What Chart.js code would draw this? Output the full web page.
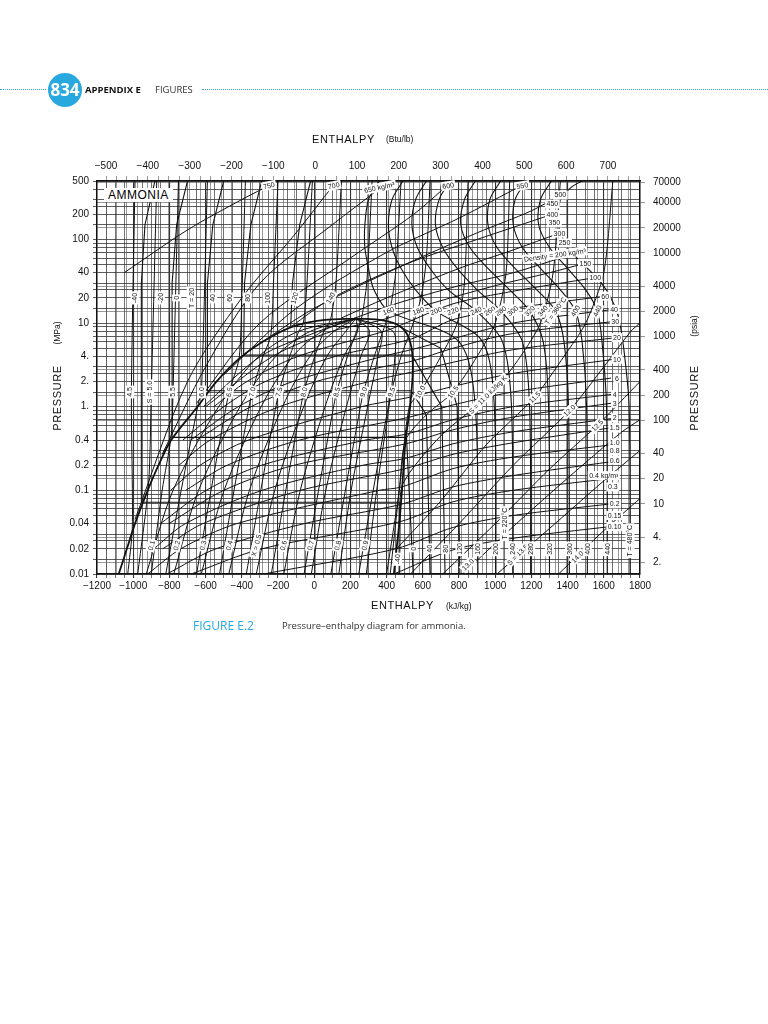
<!DOCTYPE html>
<html>
<head>
<meta charset="utf-8">
<script src="https://cdn.jsdelivr.net/npm/chart.js@4.4.1/dist/chart.umd.min.js"></script>
<style>
  body { margin: 0; background: #fff; font-family: "Liberation Sans", Arial, sans-serif; }
  #wrap { position: relative; width: 768px; height: 1024px; }
  #chart { position: absolute; left: 0; top: 0; }
  .t { position: absolute; white-space: nowrap; color: #111; }
  .dots { position: absolute; top: 89px; height: 0; border-top: 1.5px dotted #3aa6dc; }
  .badge { position: absolute; left: 48px; top: 73px; width: 34px; height: 34px; border-radius: 50%;
    background: #29a8e0; color: #fff; font: bold 17px "Open Sans", sans-serif; line-height: 34px; text-align: center; }
  .rot { transform: translate(-50%, -50%) rotate(-90deg); }
  .box { position: absolute; left: 104px; top: 188px; padding: 0 4px; background: #fff; font: 12px "Liberation Sans", Arial, sans-serif; letter-spacing: 0.5px; }
</style>
</head>
<body>
<div id="wrap">
  <canvas id="chart" width="768" height="1024"></canvas>
  <div class="dots" style="left:0;width:46px"></div>
  <div class="dots" style="left:202px;width:566px"></div>
  <div class="badge">834</div>
  <div class="t" style="left:85px;top:83px;font:bold 9.5px 'Open Sans',sans-serif">APPENDIX E</div>
  <div class="t" style="left:155px;top:83px;font:9.5px 'Open Sans',sans-serif;color:#333">FIGURES</div>
  <div class="t" style="left:312px;top:133px;font:11px 'Liberation Sans',Arial;letter-spacing:0.6px">ENTHALPY</div>
  <div class="t" style="left:386px;top:134px;font:8.5px 'Liberation Sans',Arial">(Btu/lb)</div>
  <div class="t" style="left:371px;top:599px;font:11px 'Liberation Sans',Arial;letter-spacing:0.6px">ENTHALPY</div>
  <div class="t" style="left:446px;top:601px;font:8.5px 'Liberation Sans',Arial">(kJ/kg)</div>
  <div class="t" style="left:193px;top:617px;font:12px 'Open Sans',sans-serif;color:#29a8e0">FIGURE E.2</div>
  <div class="t" style="left:282px;top:619px;font:9.5px 'Open Sans',sans-serif;color:#333">Pressure–enthalpy diagram for ammonia.</div>
  <div class="t rot" style="left:57px;top:398px;font:11px 'Liberation Sans',Arial;letter-spacing:0.6px">PRESSURE</div>
  <div class="t rot" style="left:57px;top:333px;font:8.5px 'Liberation Sans',Arial">(MPa)</div>
  <div class="t rot" style="left:694px;top:398px;font:11px 'Liberation Sans',Arial;letter-spacing:0.6px">PRESSURE</div>
  <div class="t rot" style="left:694px;top:326px;font:8.5px 'Liberation Sans',Arial">(psia)</div>
  <div class="box">AMMONIA</div>
</div>
<script>
// axis ticks
const mpaTicks = [0.01, 0.02, 0.04, 0.1, 0.2, 0.4, 1, 2, 4, 10, 20, 40, 100, 200, 500];
const mpaLabels = ["0.01", "0.02", "0.04", "0.1", "0.2", "0.4", "1.", "2.", "4.", "10", "20", "40", "100", "200", "500"];
const mpaGrid = [0.01, 0.015, 0.02, 0.025, 0.03, 0.04, 0.05, 0.06, 0.07, 0.08, 0.09,
  0.1, 0.15, 0.2, 0.25, 0.3, 0.4, 0.5, 0.6, 0.7, 0.8, 0.9,
  1, 1.5, 2, 2.5, 3, 4, 5, 6, 7, 8, 9,
  10, 15, 20, 25, 30, 40, 50, 60, 70, 80, 90,
  100, 150, 200, 250, 300, 400, 500];
const psiaTicks = [2, 4, 10, 20, 40, 100, 200, 400, 1000, 2000, 4000, 10000, 20000, 40000, 70000];
const psiaLabels = ["2.", "4.", "10", "20", "40", "100", "200", "400", "1000", "2000", "4000", "10000", "20000", "40000", "70000"];
const btuTicks = [-500, -400, -300, -200, -100, 0, 100, 200, 300, 400, 500, 600, 700];

// saturation dome [h kJ/kg, P MPa]
const satLiquid = [[-1080, 0.01], [-1035, 0.02], [-990, 0.04], [-920, 0.1], [-860, 0.2], [-790, 0.4], [-645, 1], [-540, 2], [-400, 4], [-230, 7], [-90, 9.5], [60, 10.9], [230, 11.3]];
const satVapor = [[230, 11.3], [380, 10.8], [480, 9], [530, 6], [545, 3], [530, 1], [505, 0.4], [485, 0.1], [470, 0.04], [455, 0.02], [440, 0.01]];

// quality lines
const quality = {
  "0.1": [[-928, 0.01], [-780, 0.1], [-528, 1], [-306, 4], [-85, 8], [230, 11.3]],
  "0.2": [[-776, 0.01], [-639, 0.1], [-410, 1], [-212, 4], [-20, 8], [230, 11.3]],
  "0.3": [[-624, 0.01], [-498, 0.1], [-293, 1], [-118, 4], [45, 8], [230, 11.3]],
  "0.4": [[-472, 0.01], [-358, 0.1], [-175, 1], [-24, 4], [110, 8], [230, 11.3]],
  "0.5": [[-320, 0.01], [-218, 0.1], [-58, 1], [70, 4], [175, 8], [230, 11.3]],
  "0.6": [[-168, 0.01], [-77, 0.1], [60, 1], [164, 4], [240, 8], [230, 11.3]],
  "0.7": [[-16, 0.01], [64, 0.1], [178, 1], [258, 4], [305, 8], [230, 11.3]],
  "0.8": [[136, 0.01], [204, 0.1], [295, 1], [352, 4], [370, 8], [230, 11.3]],
  "0.9": [[288, 0.01], [345, 0.1], [413, 1], [446, 4], [435, 8], [230, 11.3]],
};

// isentropes, kJ/kg K
const entropy = {
  "4.5": [[-1030, 0.01], [-1005, 0.035], [-1010, 1.5], [-990, 500]],
  "5.0": [[-975, 0.01], [-915, 0.12], [-900, 1.5], [-870, 500]],
  "5.5": [[-900, 0.01], [-840, 0.1], [-790, 0.45], [-780, 1.5], [-750, 500]],
  "6.0": [[-820, 0.01], [-735, 0.1], [-640, 1.1], [-623, 1.5], [-590, 500]],
  "6.5": [[-650, 0.01], [-570, 0.1], [-500, 0.7], [-470, 1.5], [-415, 3.8], [-400, 20], [-380, 500]],
  "7.0": [[-523, 0.01], [-443, 0.1], [-373, 0.7], [-343, 1.5], [-283, 4], [-240, 7], [-225, 30], [-200, 500]],
  "7.5": [[-375, 0.01], [-295, 0.1], [-225, 0.7], [-195, 1.5], [-135, 4], [-85, 8], [-60, 10], [-40, 30], [-10, 500]],
  "8.0": [[-237, 0.01], [-157, 0.1], [-87, 0.7], [-57, 1.5], [3, 4], [53, 8], [90, 11], [120, 30], [150, 500]],
  "8.5": [[-56, 0.01], [24, 0.1], [94, 0.7], [124, 1.5], [184, 4], [234, 8], [260, 11], [290, 30], [320, 500]],
  "9.0": [[92, 0.01], [172, 0.1], [242, 0.7], [272, 1.5], [332, 4], [380, 8], [420, 15], [450, 40], [480, 500]],
  "9.5": [[246, 0.01], [326, 0.1], [396, 0.7], [426, 1.5], [480, 4], [540, 9], [590, 20], [620, 60], [640, 500]],
  "10.0": [[400, 0.01], [470, 0.1], [525, 1], [586, 1.5], [700, 4], [790, 10], [830, 30], [850, 500]],
  "10.5": [[420, 0.01], [470, 0.1], [505, 0.4], [620, 0.8], [767, 1.5], [900, 4], [1000, 10], [1060, 40], [1080, 500]],
  "11.0": [[470, 0.04], [490, 0.12], [700, 0.45], [987, 1.5], [1140, 4], [1250, 10], [1320, 40], [1360, 500]],
  "11.5": [[455, 0.02], [700, 0.075], [950, 0.35], [1218, 1.3], [1380, 4], [1500, 10], [1600, 40], [1650, 500]],
  "12.0": [[532, 0.01], [800, 0.04], [1100, 0.2], [1410, 0.9], [1600, 3], [1750, 8], [1800, 10]],
  "12.5": [[710, 0.01], [1000, 0.04], [1300, 0.18], [1564, 0.6], [1800, 2]],
  "13.0": [[820, 0.01], [1100, 0.037], [1400, 0.14], [1700, 0.5], [1800, 0.7]],
  "13.5": [[1010, 0.01], [1300, 0.035], [1600, 0.13], [1800, 0.3]],
  "14.0": [[1350, 0.01], [1600, 0.033], [1800, 0.08]],
};

// isotherms, °C
const isotherms = {
  "-40": [[472, 0.01], [475, 0.072], [-955, 0.072], [-955, 30], [-935, 150], [-880, 500]],
  "0": [[547, 0.01], [510, 0.43], [-785, 0.43], [-785, 30], [-760, 150], [-700, 500]],
  "40": [[640, 0.01], [620, 0.8], [535, 1.55], [-590, 1.55], [-590, 30], [-560, 150], [-500, 500]],
  "80": [[723, 0.01], [705, 1], [540, 4.14], [-390, 4.14], [-385, 30], [-350, 150], [-290, 500]],
  "120": [[805, 0.01], [790, 1], [700, 5], [470, 9.1], [-130, 9.1], [-120, 30], [-80, 150], [-20, 500]],
  "160": [[905, 0.01], [890, 1], [800, 6], [410, 14], [330, 25], [300, 45], [280, 80], [280, 150], [300, 300], [360, 500]],
  "200": [[1004, 0.01], [995, 1], [930, 6], [673, 14], [560, 25], [480, 45], [430, 80], [410, 150], [430, 300], [490, 500]],
  "240": [[1097, 0.01], [1090, 1], [1040, 6], [894, 14], [740, 25], [640, 45], [570, 80], [540, 150], [560, 300], [620, 500]],
  "280": [[1196, 0.01], [1190, 1], [1150, 6], [1031, 14], [900, 25], [790, 45], [710, 80], [670, 150], [690, 300], [750, 500]],
  "320": [[1300, 0.01], [1295, 1], [1265, 6], [1190, 14], [1080, 25], [960, 45], [860, 80], [810, 150], [830, 300], [890, 500]],
  "360": [[1410, 0.01], [1405, 1], [1380, 6], [1333, 14], [1230, 25], [1110, 45], [1010, 80], [960, 150], [970, 300], [1030, 500]],
  "400": [[1509, 0.01], [1505, 1], [1480, 6], [1443, 14], [1360, 25], [1250, 45], [1150, 80], [1100, 150], [1110, 300], [1170, 500]],
  "440": [[1619, 0.01], [1615, 1], [1590, 6], [1564, 14], [1500, 25], [1400, 45], [1300, 80], [1240, 150], [1250, 300], [1310, 500]],
  "480": [[1745, 0.01], [1740, 1], [1710, 5], [1680, 12], [1630, 22], [1560, 35], [1470, 55], [1400, 80], [1350, 150], [1360, 300], [1420, 420], [1480, 500]],
};

// constant density lines, kg/m3
const density = {
  "0.1": [[440, 0.01], [767, 0.0194], [1097, 0.0267], [1640, 0.037]],
  "0.2": [[-280, 0.01], [450, 0.02], [767, 0.036], [1097, 0.05], [1640, 0.069]],
  "0.4": [[-680, 0.01], [-290, 0.02], [470, 0.042], [767, 0.073], [1097, 0.1], [1640, 0.139]],
  "0.6": [[-814, 0.01], [-543, 0.02], [-56, 0.04], [480, 0.068], [767, 0.11], [1097, 0.15], [1640, 0.22]],
  "1.0": [[-920, 0.01], [-737, 0.02], [-428, 0.04], [358, 0.1], [485, 0.11], [767, 0.182], [1097, 0.25], [1640, 0.35]],
  "1.5": [[-837, 0.02], [-616, 0.04], [-77, 0.1], [495, 0.18], [767, 0.27], [1097, 0.37], [1640, 0.56]],
  "2": [[-886, 0.02], [-712, 0.04], [-288, 0.1], [270, 0.2], [500, 0.24], [767, 0.36], [1097, 0.5], [1640, 0.72]],
  "3": [[-803, 0.04], [-500, 0.1], [-110, 0.2], [505, 0.36], [767, 0.53], [1097, 0.75], [1640, 1.1]],
  "4": [[-850, 0.04], [-597, 0.1], [-290, 0.2], [285, 0.4], [510, 0.47], [767, 0.7], [1097, 1.0], [1640, 1.4]],
  "6": [[-710, 0.1], [-480, 0.2], [-80, 0.4], [525, 0.75], [767, 1.05], [1097, 1.5], [1640, 2.2]],
  "10": [[-794, 0.1], [-630, 0.2], [-362, 0.4], [260, 1], [530, 1.3], [767, 1.75], [1097, 2.5], [1660, 3.7]],
  "20": [[-747, 0.2], [-574, 0.4], [-193, 1], [302, 2], [540, 2.6], [767, 3.4], [1097, 4.8], [1670, 6.7]],
  "30": [[-650, 0.4], [-350, 1], [10, 2], [380, 3], [540, 3.5], [767, 5], [1097, 7.5], [1663, 10.5]],
  "40": [[-682, 0.4], [-420, 1], [-119, 2], [380, 4], [535, 4.8], [767, 6.5], [1097, 10], [1655, 14.6]],
  "60": [[-725, 0.4], [-500, 1], [-270, 2], [117, 4], [540, 6.5], [767, 11], [1097, 15], [1608, 21]],
  "100": [[-555, 1], [-372, 2], [-90, 4], [390, 8], [480, 9.5], [767, 17], [1097, 24], [1553, 35]],
  "150": [[-600, 1], [-230, 4], [100, 8], [380, 11], [600, 16], [1000, 28], [1300, 40], [1498, 52]],
  "200": [[-613, 1], [-297, 4], [25, 8], [200, 11], [450, 17], [800, 28], [1100, 40], [1410, 65]],
  "300": [[150, 11.5], [400, 20], [800, 45], [1100, 75], [1355, 119]],
  "400": [[-130, 9], [100, 20], [500, 50], [900, 100], [1316, 200]],
  "500": [[-365, 4.6], [0, 15], [500, 50], [900, 120], [1200, 220], [1360, 340]],
  "550": [[-500, 2.4], [-100, 15], [400, 70], [800, 180], [1151, 450], [1180, 500]],
  "600": [[-650, 1.1], [-300, 10], [200, 60], [550, 200], [740, 450], [770, 500]],
  "650": [[-840, 0.27], [-600, 3], [-300, 30], [100, 150], [355, 400], [400, 500]],
  "700": [[-990, 0.045], [-700, 2], [-400, 20], [-100, 120], [108, 450], [130, 500]],
  "750": [[-1050, 40], [-700, 130], [-400, 300], [-200, 500]],
};

// curve labels [text, h, P, angle]
const curveLabels = [
  ["650 kg/m³", 360, 420, -12], ["700", 108, 440, -12], ["750", -250, 440, -12], ["600", 740, 440, -10], ["550", 1150, 440, -10], ["500", 1360, 340, 0],
  ["450", 1316, 265, 0], ["400", 1316, 200, 0], ["350", 1327, 158, 0], ["300", 1355, 119, 0], ["250", 1383, 91, 0], ["Density = 200 kg/m³", 1330, 65, -8],
  ["150", 1498, 52, 0], ["100", 1553, 35, 0], ["60", 1608, 21, 0], ["40", 1657, 14.6, 0], ["30", 1663, 10.5, 0], ["20", 1673, 6.7, 0],
  ["10", 1673, 3.7, 0], ["6", 1673, 2.2, 0], ["4", 1660, 1.4, 0], ["3", 1660, 1.1, 0], ["2", 1660, 0.74, 0], ["1.5", 1660, 0.56, 0],
  ["1.0", 1660, 0.37, 0], ["0.8", 1660, 0.3, 0], ["0.6", 1660, 0.23, 0], ["0.4 kg/m³", 1600, 0.15, 0], ["0.3", 1650, 0.11, 0], ["0.2", 1660, 0.069, 0],
  ["0.15", 1660, 0.05, 0], ["0.10", 1660, 0.037, 0],
  ["4.5", -1019, 1.5, -90], ["S = 5.0", -909, 1.5, -90], ["5.5", -782, 1.5, -90], ["6.0", -623, 1.5, -90], ["6.5", -470, 1.5, -80], ["7.0", -343, 1.5, -78],
  ["7.5", -195, 1.5, -75], ["8.0", -57, 1.5, -75], ["8.5", 124, 1.5, -75], ["9.0", 272, 1.5, -72], ["9.5", 426, 1.5, -70], ["10.0", 586, 1.5, -60],
  ["10.5", 767, 1.5, -55], ["S = 11.0 kJ/kg K", 960, 1.4, -45], ["11.5", 1218, 1.3, -45], ["12.0", 1410, 0.9, -45], ["12.5", 1564, 0.6, -45],
  ["13.0", 849, 0.013, -45], ["S = 13.5", 1124, 0.017, -45], ["14.0", 1454, 0.016, -45],
  ["0.1", -900, 0.022, -75], ["0.2", -760, 0.022, -75], ["0.3", -615, 0.022, -75], ["0.4", -470, 0.022, -75], ["X = 0.5", -320, 0.022, -75],
  ["0.6", -170, 0.022, -75], ["0.7", -20, 0.022, -75], ["0.8", 130, 0.022, -75], ["0.9", 280, 0.022, -75],
  ["-40", -990, 20, -90], ["-20", -850, 20, -90], ["0", -760, 20, -90], ["T = 20", -680, 20, -90], ["40", -560, 20, -90], ["60", -470, 20, -90],
  ["80", -370, 20, -90], ["100", -260, 20, -90], ["120", -110, 20, -75], ["140", 90, 20, -60], ["160", 410, 14, -20], ["180", 575, 14, -20],
  ["200", 673, 14, -20], ["220", 767, 14, -20], ["240", 894, 14, -25], ["260", 970, 14, -30], ["280", 1031, 14, -35], ["300", 1097, 14, -40],
  ["320", 1190, 14, -45], ["340", 1262, 14, -50], ["T = 360°C", 1333, 14, -55], ["400", 1443, 14, -60], ["440", 1564, 14, -65],
  ["-40", 460, 0.015, -90], ["0", 547, 0.02, -90], ["40", 640, 0.02, -90], ["80", 723, 0.02, -90], ["120", 805, 0.02, -90], ["160", 905, 0.02, -90],
  ["200", 1004, 0.02, -90], ["T = 220°C", 1050, 0.04, -90], ["240", 1097, 0.02, -90], ["280", 1196, 0.02, -90], ["320", 1300, 0.02, -90],
  ["360", 1410, 0.02, -90], ["400", 1509, 0.02, -90], ["440", 1619, 0.02, -90], ["T = 480°C", 1745, 0.025, -90],
];

const curve = (pts) => pts.map(([h, p]) => ({ x: h, y: p }));
const datasets = [];
function addLine(pts, width, tension) {
  datasets.push({ data: curve(pts), borderColor: "#111", borderWidth: width, pointRadius: 0, tension: tension, fill: false });
}
addLine(satLiquid, 1.8, 0.3);
addLine(satVapor, 1.8, 0.3);
for (const k in quality) addLine(quality[k], 1, 0.3);
for (const k in entropy) addLine(entropy[k], 1, 0.25);
for (const k in isotherms) addLine(isotherms[k], 1.1, Number(k) > 140 ? 0.3 : 0);
for (const k in density) addLine(density[k], 1, 0.3);

const labelPlugin = {
  id: "curveLabels",
  afterDatasetsDraw(chart) {
    const { ctx, scales, chartArea } = chart;
    ctx.save();
    ctx.font = "7px 'Liberation Sans', Arial";
    ctx.textAlign = "center";
    ctx.textBaseline = "middle";
    for (const [text, h, p, ang] of curveLabels) {
      const px = scales.x.getPixelForValue(h);
      const py = scales.y.getPixelForValue(p);
      if (px < chartArea.left || px > chartArea.right) continue;
      ctx.save();
      ctx.translate(px, py);
      ctx.rotate((ang * Math.PI) / 180);
      const w = ctx.measureText(text).width + 3;
      ctx.fillStyle = "#fff";
      ctx.fillRect(-w / 2, -4.5, w, 9);
      ctx.fillStyle = "#111";
      ctx.fillText(text, 0, 0.5);
      ctx.restore();
    }
    ctx.restore();
  },
};

const tickFont = { family: "'Liberation Sans', Arial", size: 10 };
new Chart(document.getElementById("chart"), {
  type: "line",
  data: { datasets },
  options: {
    responsive: false,
    animation: false,
    plugins: { legend: { display: false }, tooltip: { enabled: false } },
    layout: { padding: 0 },
    scales: {
      x: {
        type: "linear", position: "bottom", min: -1200, max: 1800,
        afterBuildTicks: (s) => { s.ticks = []; for (let v = -1200; v <= 1800; v += 50) s.ticks.push({ value: v }); },
        afterFit: (s) => { s.height = 450; },
        grid: { color: "#333", lineWidth: (c) => (c.tick && c.tick.value % 200 === 0 ? 1.1 : 0.7), tickLength: 4 },
        border: { color: "#111", width: 1.5 },
        ticks: { autoSkip: false, maxRotation: 0, color: "#111", font: tickFont, padding: 2,
          callback: (v) => (v % 200 === 0 ? String(v).replace("-", "−") : "") },
      },
      xTop: {
        type: "linear", position: "top", min: -521.6, max: 776.6,
        afterBuildTicks: (s) => { s.ticks = []; for (let v = -500; v <= 775; v += 25) s.ticks.push({ value: v }); },
        afterFit: (s) => { s.height = 181; },
        grid: { color: "#555", lineWidth: 0.6, tickLength: 5 },
        border: { color: "#111", width: 1.5 },
        ticks: { autoSkip: false, maxRotation: 0, color: "#111", font: tickFont, padding: 4,
          callback: (v) => (btuTicks.includes(v) ? String(v).replace("-", "−") : "") },
      },
      y: {
        type: "logarithmic", position: "left", min: 0.01, max: 500,
        afterBuildTicks: (s) => { s.ticks = mpaGrid.map((v) => ({ value: v })); },
        afterFit: (s) => { s.width = 97; },
        grid: { color: "#333", lineWidth: 0.8, tickLength: 4 },
        border: { color: "#111", width: 1.5 },
        ticks: { autoSkip: false, color: "#111", font: tickFont, padding: 4,
          callback: (v) => { const i = mpaTicks.indexOf(v); return i >= 0 ? mpaLabels[i] : ""; } },
      },
      yR: {
        type: "logarithmic", position: "right", min: 1.45, max: 72519,
        afterBuildTicks: (s) => { s.ticks = psiaTicks.map((v) => ({ value: v })); },
        afterFit: (s) => { s.width = 128; },
        grid: { drawOnChartArea: true, color: "#555", lineWidth: 0.6, tickLength: 5 },
        border: { color: "#111", width: 1.5 },
        ticks: { autoSkip: false, color: "#111", font: tickFont, padding: 8,
          callback: (v) => { const i = psiaTicks.indexOf(v); return i >= 0 ? psiaLabels[i] : ""; } },
      },
    },
  },
  plugins: [labelPlugin],
});
</script>
</body>
</html>
